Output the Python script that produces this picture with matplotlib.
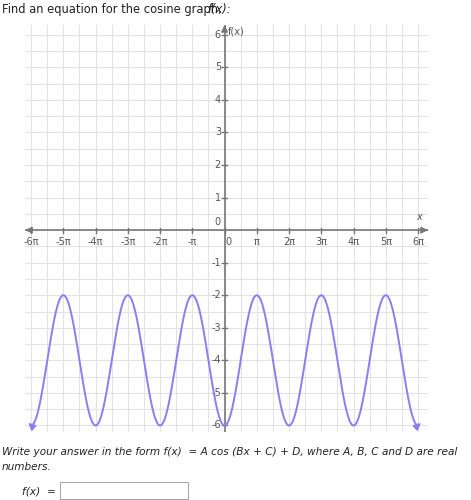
import numpy as np
import matplotlib
matplotlib.use("Agg")
import matplotlib.pyplot as plt
from matplotlib.patches import Rectangle

A, B, C, D = 2, 1, np.pi, -4
xticks_mult = [-6, -5, -4, -3, -2, -1, 0, 1, 2, 3, 4, 5, 6]
xtick_labels = ["-6π", "-5π", "-4π", "-3π", "-2π", "-π", "0", "π", "2π", "3π", "4π", "5π", "6π"]
yticks = [-6, -5, -4, -3, -2, -1, 0, 1, 2, 3, 4, 5, 6]

W, H = 471, 500
fig = plt.figure(figsize=(W/100, H/100), dpi=100)
plt.rcParams['font.family'] = ['DejaVu Sans']
x0, x1 = -6.19*np.pi, 6.31*np.pi
y0, y1 = -6.2, 6.3
ax = fig.add_axes([25/W, 1-432/H, 403/W, 407/H])
ax.set_xlim(x0, x1); ax.set_ylim(y0, y1)
for s in ax.spines.values(): s.set_visible(False)
ax.set_xticks([]); ax.set_yticks([])
for k in np.arange(-12, 13):
    ax.axvline(k*np.pi/2, color='#e3e3e3', lw=0.8, zorder=0)
for v in np.arange(-12, 13):
    ax.axhline(v/2, color='#e3e3e3', lw=0.8, zorder=0)
ax.axhline(0, color='#777777', lw=1.2, zorder=1)
ax.axvline(0, color='#777777', lw=1.2, zorder=1)
ap = dict(arrowstyle='-|>', color='#777777', lw=1, shrinkA=0, shrinkB=0)
ax.annotate('', xy=(x0, 0), xytext=(x0+0.3, 0), arrowprops=ap)
ax.annotate('', xy=(x1, 0), xytext=(x1-0.3, 0), arrowprops=ap)
ax.annotate('', xy=(0, y1), xytext=(0, y1-0.2), arrowprops=ap)
for m, lab in zip(xticks_mult, xtick_labels):
    ax.plot([m*np.pi]*2, [-0.08, 0.08], color='#777777', lw=1)
    if m != 0:
        ax.text(m*np.pi, -0.22, lab, ha='center', va='top', fontsize=7, color='#555555')
ax.text(0.1, -0.22, "0", ha='left', va='top', fontsize=7, color='#555555')
for v in yticks:
    if v != 0:
        ax.plot([-0.25, 0.25], [v, v], color='#777777', lw=1)
        ax.text(-0.35, v, str(v), ha='right', va='center', fontsize=7, color='#555555')
ax.text(-0.35, 0.1, "0", ha='right', va='bottom', fontsize=7, color='#555555')
ax.text(6.05*np.pi, 0.25, "x", ha='center', va='bottom', fontsize=7, style='italic', color='#555555')
ax.text(0.3, 6.1, "f(x)", ha='left', va='center', fontsize=7, color='#555555')
xs = np.linspace(-6*np.pi, 6*np.pi, 2000)
f = lambda t: A*np.cos(B*t + C) + D
ax.plot(xs, f(xs), color='#8a7ef0', lw=1.4, zorder=3)
cp = dict(arrowstyle='-|>', color='#8a7ef0', lw=1.2, shrinkA=0, shrinkB=0)
ax.annotate('', xy=(-6.09*np.pi, f(-6.09*np.pi)), xytext=(-6*np.pi, f(-6*np.pi)), arrowprops=cp)
ax.annotate('', xy=(6.09*np.pi, f(6.09*np.pi)), xytext=(6*np.pi, f(6*np.pi)), arrowprops=cp)

fig.text(2/W, 1-9/H, "Find an equation for the cosine graph, ", fontsize=8.3, va='center', color='#222222')
fig.text(207/W, 1-9/H, "f(x):", fontsize=8.3, va='center', style='italic', color='#222222')
fig.text(2/W, 1-452/H, "Write your answer in the form f(x)  = A cos (Bx + C) + D, where A, B, C and D are real",
         fontsize=7.6, va='center', style='italic', color='#222222')
fig.text(2/W, 1-467/H, "numbers.", fontsize=7.6, va='center', style='italic', color='#222222')
fig.text(22/W, 1-491/H, "f(x)  =", fontsize=7.6, va='center', style='italic', color='#222222')
fig.patches.append(Rectangle((60/W, 1-499/H), 128/W, 17/H, transform=fig.transFigure,
                             fill=False, edgecolor='#aaaaaa', lw=0.8))
fig.savefig("out.png", dpi=100)
